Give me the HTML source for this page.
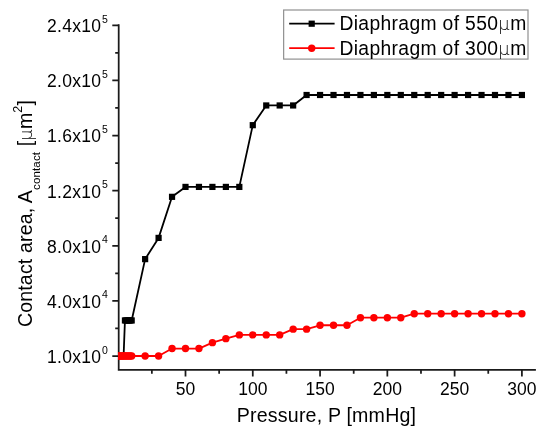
<!DOCTYPE html><html><head><meta charset="utf-8"><style>html,body{margin:0;padding:0;background:#fff;}svg{display:block;}text{font-family:"Liberation Sans",Arial,sans-serif;fill:#000;}</style></head><body>
<svg width="550" height="439" viewBox="0 0 550 439">
<rect width="550" height="439" fill="#fff"/>
<defs><clipPath id="c"><rect x="118.0" y="20" width="420" height="349.8"/></clipPath></defs>
<g stroke="#1a1a1a" stroke-width="1.75" fill="none">
<path d="M118.7,24.3 V370.7 M117.8,369.8 H535.9"/>
<path d="M118.7,356.00 H112.3 M118.7,300.88 H112.3 M118.7,245.75 H112.3 M118.7,190.63 H112.3 M118.7,135.50 H112.3 M118.7,80.38 H112.3 M118.7,25.26 H112.3 M118.7,328.44 H115.2 M118.7,273.31 H115.2 M118.7,218.19 H115.2 M118.7,163.07 H115.2 M118.7,107.94 H115.2 M118.7,52.82 H115.2 M185.50,369.8 V376.5 M252.78,369.8 V376.5 M320.06,369.8 V376.5 M387.34,369.8 V376.5 M454.62,369.8 V376.5 M521.90,369.8 V376.5 M151.86,369.8 V373.8 M219.14,369.8 V373.8 M286.42,369.8 V373.8 M353.70,369.8 V373.8 M420.98,369.8 V373.8 M488.26,369.8 V373.8 "/>
</g>
<g clip-path="url(#c)">
<polyline points="118.22,356.00 119.57,356.00 120.91,356.00 122.26,356.00 123.60,356.00 124.95,320.45 126.29,320.45 127.64,320.45 128.98,320.45 130.33,320.45 131.68,320.45 145.13,259.12 158.59,237.90 172.04,196.83 185.50,186.91 198.96,186.91 212.41,186.91 225.87,186.91 239.32,186.91 252.78,125.17 266.24,105.46 279.69,105.46 293.15,105.46 306.60,94.99 320.06,94.99 333.52,94.99 346.97,94.99 360.43,94.99 373.88,94.99 387.34,94.99 400.80,94.99 414.25,94.99 427.71,94.99 441.16,94.99 454.62,94.99 468.08,94.99 481.53,94.99 494.99,94.99 508.44,94.99 521.90,94.99" fill="none" stroke="#000" stroke-width="1.8" stroke-linejoin="round"/>
<rect x="115.12" y="352.90" width="6.2" height="6.2" fill="#000"/>
<rect x="116.47" y="352.90" width="6.2" height="6.2" fill="#000"/>
<rect x="117.81" y="352.90" width="6.2" height="6.2" fill="#000"/>
<rect x="119.16" y="352.90" width="6.2" height="6.2" fill="#000"/>
<rect x="120.50" y="352.90" width="6.2" height="6.2" fill="#000"/>
<rect x="121.85" y="317.35" width="6.2" height="6.2" fill="#000"/>
<rect x="123.19" y="317.35" width="6.2" height="6.2" fill="#000"/>
<rect x="124.54" y="317.35" width="6.2" height="6.2" fill="#000"/>
<rect x="125.88" y="317.35" width="6.2" height="6.2" fill="#000"/>
<rect x="127.23" y="317.35" width="6.2" height="6.2" fill="#000"/>
<rect x="128.58" y="317.35" width="6.2" height="6.2" fill="#000"/>
<rect x="142.03" y="256.02" width="6.2" height="6.2" fill="#000"/>
<rect x="155.49" y="234.80" width="6.2" height="6.2" fill="#000"/>
<rect x="168.94" y="193.73" width="6.2" height="6.2" fill="#000"/>
<rect x="182.40" y="183.81" width="6.2" height="6.2" fill="#000"/>
<rect x="195.86" y="183.81" width="6.2" height="6.2" fill="#000"/>
<rect x="209.31" y="183.81" width="6.2" height="6.2" fill="#000"/>
<rect x="222.77" y="183.81" width="6.2" height="6.2" fill="#000"/>
<rect x="236.22" y="183.81" width="6.2" height="6.2" fill="#000"/>
<rect x="249.68" y="122.07" width="6.2" height="6.2" fill="#000"/>
<rect x="263.14" y="102.36" width="6.2" height="6.2" fill="#000"/>
<rect x="276.59" y="102.36" width="6.2" height="6.2" fill="#000"/>
<rect x="290.05" y="102.36" width="6.2" height="6.2" fill="#000"/>
<rect x="303.50" y="91.89" width="6.2" height="6.2" fill="#000"/>
<rect x="316.96" y="91.89" width="6.2" height="6.2" fill="#000"/>
<rect x="330.42" y="91.89" width="6.2" height="6.2" fill="#000"/>
<rect x="343.87" y="91.89" width="6.2" height="6.2" fill="#000"/>
<rect x="357.33" y="91.89" width="6.2" height="6.2" fill="#000"/>
<rect x="370.78" y="91.89" width="6.2" height="6.2" fill="#000"/>
<rect x="384.24" y="91.89" width="6.2" height="6.2" fill="#000"/>
<rect x="397.70" y="91.89" width="6.2" height="6.2" fill="#000"/>
<rect x="411.15" y="91.89" width="6.2" height="6.2" fill="#000"/>
<rect x="424.61" y="91.89" width="6.2" height="6.2" fill="#000"/>
<rect x="438.06" y="91.89" width="6.2" height="6.2" fill="#000"/>
<rect x="451.52" y="91.89" width="6.2" height="6.2" fill="#000"/>
<rect x="464.98" y="91.89" width="6.2" height="6.2" fill="#000"/>
<rect x="478.43" y="91.89" width="6.2" height="6.2" fill="#000"/>
<rect x="491.89" y="91.89" width="6.2" height="6.2" fill="#000"/>
<rect x="505.34" y="91.89" width="6.2" height="6.2" fill="#000"/>
<rect x="518.80" y="91.89" width="6.2" height="6.2" fill="#000"/>
<polyline points="118.22,356.00 119.57,356.00 120.91,356.00 122.26,356.00 123.60,356.00 124.95,356.00 126.29,356.00 127.64,356.00 128.98,356.00 130.33,356.00 131.68,356.00 145.13,356.00 158.59,356.00 172.04,348.56 185.50,348.56 198.96,348.56 212.41,342.63 225.87,338.64 239.32,334.92 252.78,334.92 266.24,334.92 279.69,334.92 293.15,329.13 306.60,329.13 320.06,325.27 333.52,325.27 346.97,325.27 360.43,317.69 373.88,317.69 387.34,317.69 400.80,317.69 414.25,313.69 427.71,313.69 441.16,313.69 454.62,313.69 468.08,313.69 481.53,313.69 494.99,313.69 508.44,313.69 521.90,313.69" fill="none" stroke="#f00" stroke-width="1.8" stroke-linejoin="round"/>
<circle cx="118.22" cy="356.00" r="3.7" fill="#f00"/>
<circle cx="119.57" cy="356.00" r="3.7" fill="#f00"/>
<circle cx="120.91" cy="356.00" r="3.7" fill="#f00"/>
<circle cx="122.26" cy="356.00" r="3.7" fill="#f00"/>
<circle cx="123.60" cy="356.00" r="3.7" fill="#f00"/>
<circle cx="124.95" cy="356.00" r="3.7" fill="#f00"/>
<circle cx="126.29" cy="356.00" r="3.7" fill="#f00"/>
<circle cx="127.64" cy="356.00" r="3.7" fill="#f00"/>
<circle cx="128.98" cy="356.00" r="3.7" fill="#f00"/>
<circle cx="130.33" cy="356.00" r="3.7" fill="#f00"/>
<circle cx="131.68" cy="356.00" r="3.7" fill="#f00"/>
<circle cx="145.13" cy="356.00" r="3.7" fill="#f00"/>
<circle cx="158.59" cy="356.00" r="3.7" fill="#f00"/>
<circle cx="172.04" cy="348.56" r="3.7" fill="#f00"/>
<circle cx="185.50" cy="348.56" r="3.7" fill="#f00"/>
<circle cx="198.96" cy="348.56" r="3.7" fill="#f00"/>
<circle cx="212.41" cy="342.63" r="3.7" fill="#f00"/>
<circle cx="225.87" cy="338.64" r="3.7" fill="#f00"/>
<circle cx="239.32" cy="334.92" r="3.7" fill="#f00"/>
<circle cx="252.78" cy="334.92" r="3.7" fill="#f00"/>
<circle cx="266.24" cy="334.92" r="3.7" fill="#f00"/>
<circle cx="279.69" cy="334.92" r="3.7" fill="#f00"/>
<circle cx="293.15" cy="329.13" r="3.7" fill="#f00"/>
<circle cx="306.60" cy="329.13" r="3.7" fill="#f00"/>
<circle cx="320.06" cy="325.27" r="3.7" fill="#f00"/>
<circle cx="333.52" cy="325.27" r="3.7" fill="#f00"/>
<circle cx="346.97" cy="325.27" r="3.7" fill="#f00"/>
<circle cx="360.43" cy="317.69" r="3.7" fill="#f00"/>
<circle cx="373.88" cy="317.69" r="3.7" fill="#f00"/>
<circle cx="387.34" cy="317.69" r="3.7" fill="#f00"/>
<circle cx="400.80" cy="317.69" r="3.7" fill="#f00"/>
<circle cx="414.25" cy="313.69" r="3.7" fill="#f00"/>
<circle cx="427.71" cy="313.69" r="3.7" fill="#f00"/>
<circle cx="441.16" cy="313.69" r="3.7" fill="#f00"/>
<circle cx="454.62" cy="313.69" r="3.7" fill="#f00"/>
<circle cx="468.08" cy="313.69" r="3.7" fill="#f00"/>
<circle cx="481.53" cy="313.69" r="3.7" fill="#f00"/>
<circle cx="494.99" cy="313.69" r="3.7" fill="#f00"/>
<circle cx="508.44" cy="313.69" r="3.7" fill="#f00"/>
<circle cx="521.90" cy="313.69" r="3.7" fill="#f00"/>
</g>
<text x="47.0" y="362.90" font-size="17.5" textLength="54.0">1.0x10</text>
<text x="101.9" y="353.60" font-size="10.5">0</text>
<text x="47.0" y="307.78" font-size="17.5" textLength="54.0">4.0x10</text>
<text x="101.9" y="298.48" font-size="10.5">4</text>
<text x="47.0" y="252.65" font-size="17.5" textLength="54.0">8.0x10</text>
<text x="101.9" y="243.35" font-size="10.5">4</text>
<text x="47.0" y="197.53" font-size="17.5" textLength="54.0">1.2x10</text>
<text x="101.9" y="188.23" font-size="10.5">5</text>
<text x="47.0" y="142.40" font-size="17.5" textLength="54.0">1.6x10</text>
<text x="101.9" y="133.10" font-size="10.5">5</text>
<text x="47.0" y="87.28" font-size="17.5" textLength="54.0">2.0x10</text>
<text x="101.9" y="77.98" font-size="10.5">5</text>
<text x="47.0" y="32.16" font-size="17.5" textLength="54.0">2.4x10</text>
<text x="101.9" y="22.86" font-size="10.5">5</text>
<text x="185.50" y="394.7" text-anchor="middle" font-size="17.5">50</text>
<text x="252.78" y="394.7" text-anchor="middle" font-size="17.5">100</text>
<text x="320.06" y="394.7" text-anchor="middle" font-size="17.5">150</text>
<text x="387.34" y="394.7" text-anchor="middle" font-size="17.5">200</text>
<text x="454.62" y="394.7" text-anchor="middle" font-size="17.5">250</text>
<text x="521.90" y="394.7" text-anchor="middle" font-size="17.5">300</text>
<text x="236.8" y="421.7" font-size="19.6" textLength="179.2">Pressure, P [mmHg]</text>
<text transform="translate(32.4,327.1) rotate(-90)" font-size="19.6" textLength="227.0">Contact area, A<tspan font-size="11.5" dy="7.9">contact</tspan><tspan dy="-7.9"> [</tspan><tspan font-family="DejaVu Sans" font-weight="200" font-size="18">μ</tspan>m<tspan font-size="12.5" dy="-10.3">2</tspan><tspan dy="10.3">]</tspan></text>
<rect x="283.65" y="10.0" width="244.35" height="49.1" fill="#fff" stroke="#909090" stroke-width="1.2"/>
<path d="M289.2,23.7 H334.6" stroke="#000" stroke-width="1.8"/>
<rect x="308.59999999999997" y="20.599999999999998" width="6.2" height="6.2" fill="#000"/>
<path d="M289.2,48.2 H334.6" stroke="#f00" stroke-width="1.8"/>
<circle cx="311.7" cy="48.2" r="3.7" fill="#f00"/>
<text x="339.4" y="29.8" font-size="19.3" textLength="186.8">Diaphragm of 550<tspan font-family="DejaVu Sans" font-weight="200" font-size="18">μ</tspan>m</text>
<text x="339.4" y="54.6" font-size="19.3" textLength="186.8">Diaphragm of 300<tspan font-family="DejaVu Sans" font-weight="200" font-size="18">μ</tspan>m</text>
</svg></body></html>
